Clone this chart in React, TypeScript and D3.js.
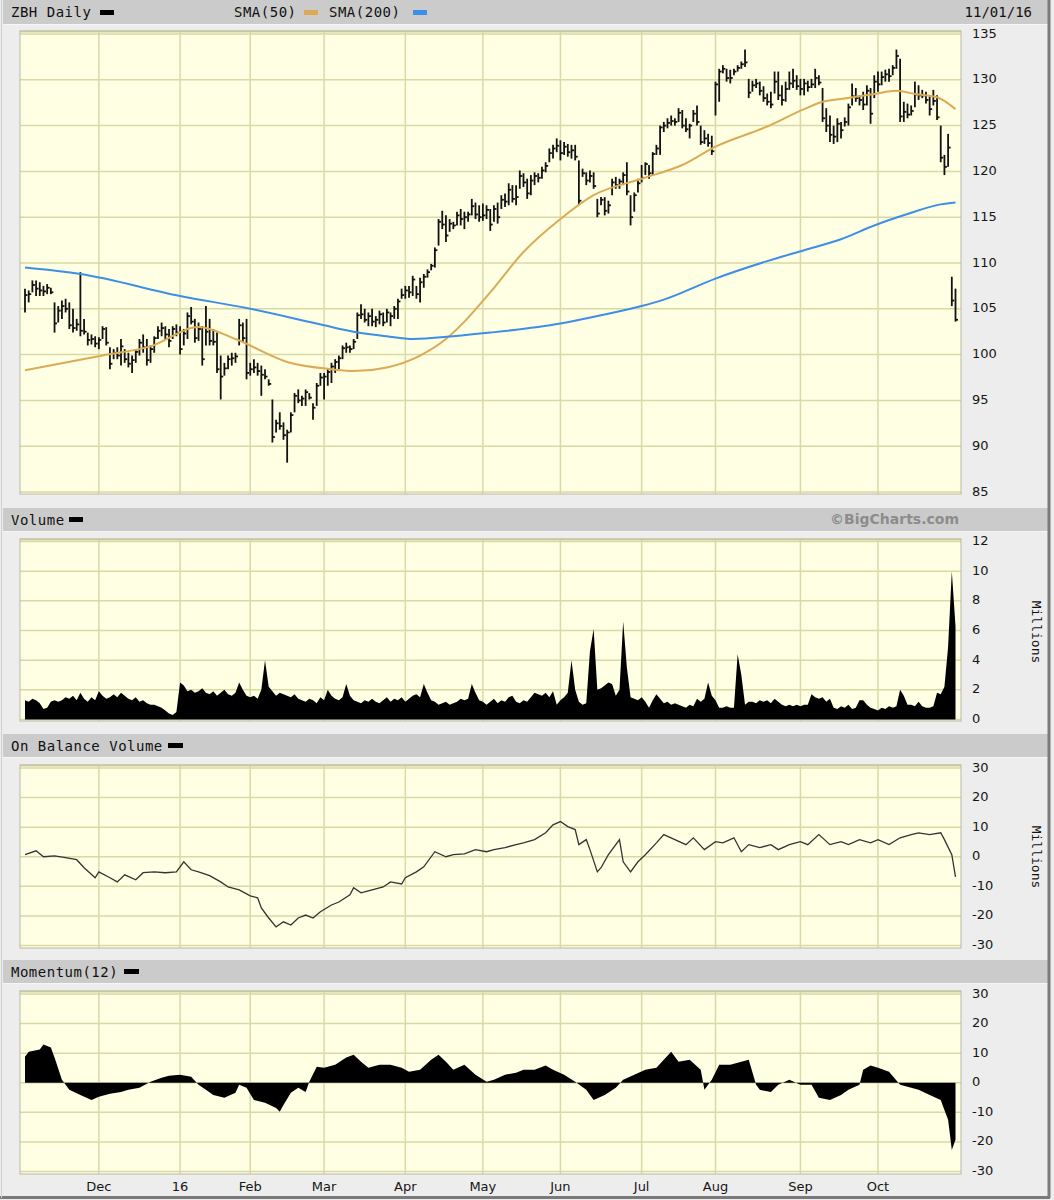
import React from "react";
import * as d3 from "d3";

// ZBH daily bars, Nov 2 2015 .. Nov 1 2016 (index 0..252)
const highs: number[] = [
  107.2,107.0,108.1,108.1,107.9,107.5,107.7,107.3,105.7,105.3,105.9,106.1,105.7,105.0,103.9,109.0,103.9,102.4,102.2,102.0,
  101.9,103.1,103.0,100.8,100.6,100.8,101.7,100.6,100.2,99.9,100.6,101.7,102.2,101.7,101.0,102.0,103.1,103.5,103.1,102.8,103.1,103.3,
  103.1,102.8,104.6,105.2,103.9,103.5,103.1,105.3,103.9,102.8,102.4,99.9,99.1,99.9,100.2,100.2,103.9,103.5,103.9,
  99.1,99.5,99.1,98.8,98.4,97.3,95.1,92.9,93.7,92.6,91.8,93.7,95.8,96.2,95.5,96.2,95.8,94.7,96.9,98.0,
  98.0,98.4,99.1,99.5,99.9,101.0,101.3,101.0,101.7,104.6,105.5,105.0,104.6,105.0,104.2,104.8,104.6,105.0,104.6,105.3,106.1,107.2,
  107.5,107.5,108.6,107.5,108.4,108.8,109.3,109.9,111.7,114.8,115.7,115.2,114.8,114.5,115.6,115.9,115.6,115.6,117.0,116.6,116.3,
  116.5,116.3,115.9,116.3,116.6,117.4,117.6,118.7,118.5,118.5,120.1,119.8,119.2,119.6,119.9,119.8,120.5,121.0,122.5,122.9,123.6,
  123.4,123.2,123.0,122.9,122.9,121.2,120.3,119.9,120.1,119.9,117.0,117.2,117.2,116.8,119.2,119.4,119.2,119.9,121.0,117.4,117.7,119.2,
  120.7,121.0,120.7,122.1,122.9,125.0,125.4,125.8,126.1,125.8,126.9,126.7,125.8,125.2,126.7,127.2,125.0,124.5,124.1,123.9,
  129.8,131.2,131.6,131.2,131.1,131.2,131.6,132.0,133.3,130.1,129.9,130.1,129.8,129.3,128.5,128.7,130.9,130.9,129.4,129.8,130.9,131.2,130.5,
  130.1,130.1,129.9,130.1,131.2,130.5,129.1,126.9,126.1,125.0,125.8,125.4,125.9,127.4,129.6,129.1,128.3,128.7,129.4,129.1,130.5,
  130.9,130.9,131.1,131.2,131.6,133.3,132.3,127.6,127.4,127.2,129.8,129.4,128.9,128.7,128.2,128.9,128.3,125.0,121.8,124.1,108.5,107.2,
];
const lows: number[] = [
  104.6,105.7,106.8,106.4,106.4,106.4,106.6,106.6,102.4,103.5,103.9,104.6,102.8,102.4,102.6,102.0,102.2,101.0,101.1,100.8,
  100.6,101.7,101.0,98.4,99.5,99.5,98.8,99.1,98.6,98.0,99.1,99.9,100.2,98.8,99.1,100.2,101.7,102.0,101.7,100.8,101.7,102.0,
  100.0,101.0,101.7,103.3,101.3,101.5,98.8,101.0,101.0,101.0,98.0,95.1,97.7,98.4,98.8,99.1,101.0,101.3,97.3,
  97.7,98.0,97.7,95.5,97.3,96.6,90.4,91.5,91.8,90.7,88.2,91.5,93.7,94.7,94.4,94.4,95.1,92.9,94.4,96.6,
  95.1,96.6,96.9,98.0,98.4,99.5,100.2,100.2,100.6,101.7,103.9,103.5,103.1,103.1,103.0,103.3,103.1,103.5,103.1,103.9,103.9,106.1,
  106.1,106.2,106.4,106.1,105.7,107.3,108.4,109.2,109.5,111.9,113.7,112.3,113.4,113.7,114.1,114.1,113.7,114.5,115.2,114.8,114.5,
  114.6,114.8,113.5,114.5,114.3,115.9,116.1,116.3,116.6,116.3,118.1,118.3,117.0,117.4,118.5,118.8,119.2,119.9,121.0,121.4,122.1,
  121.2,121.8,121.6,121.4,121.2,116.3,119.4,118.5,118.8,118.1,115.0,116.3,115.2,115.4,117.4,118.1,118.1,118.5,117.4,114.1,115.6,117.7,
  118.8,119.6,119.2,119.6,121.8,121.8,124.3,124.7,125.0,125.0,125.4,124.7,124.3,123.6,125.4,125.0,122.9,123.0,122.7,121.8,
  126.1,127.6,130.7,129.8,129.6,130.5,130.9,131.2,131.4,128.0,128.7,129.1,128.3,127.6,127.2,126.9,128.5,127.8,127.2,127.6,128.9,129.1,128.9,
  128.3,128.3,128.7,129.1,129.1,129.4,125.4,124.3,123.2,123.0,123.2,123.6,124.9,125.0,127.2,127.6,127.2,126.7,127.2,125.2,128.0,
  128.7,129.4,129.8,129.8,130.5,131.2,125.4,125.4,125.8,126.1,127.0,127.8,128.0,127.4,126.1,127.2,125.6,121.0,119.6,120.5,105.3,103.6,
];
const closes: number[] = [
  106.5,106.6,107.6,107.2,107.0,106.9,107.3,106.8,103.4,104.8,105.3,105.0,103.2,102.9,103.3,102.6,102.5,101.6,101.7,101.2,
  101.6,102.8,101.3,99.0,100.2,99.9,100.9,99.5,99.0,99.4,100.3,101.3,100.8,99.4,100.6,101.8,102.6,102.9,102.2,101.5,102.8,102.4,
  100.6,102.3,104.2,103.6,101.8,102.8,99.5,102.5,101.5,101.4,98.4,97.6,98.5,99.5,99.6,99.8,103.2,101.8,98.0,
  98.4,98.6,98.2,97.8,97.6,96.8,91.0,92.5,92.2,91.2,91.5,93.4,95.5,95.0,95.2,95.9,95.3,94.2,96.6,97.5,
  97.6,98.1,98.7,99.2,99.6,100.7,100.8,100.6,101.4,104.3,104.4,103.8,104.2,103.6,103.8,104.4,103.5,104.6,104.2,105.0,105.8,106.5,
  107.0,106.8,108.2,106.6,107.9,108.5,109.0,109.7,111.4,114.5,114.2,113.0,114.3,114.1,115.2,114.8,115.0,115.3,116.2,115.3,115.0,
  115.2,115.8,114.2,115.9,115.0,116.9,116.7,118.0,117.0,117.2,119.5,118.8,117.6,119.0,119.5,119.3,120.1,120.6,122.0,122.5,122.8,
  122.0,122.7,122.1,122.3,121.6,116.8,119.8,119.0,119.5,118.4,115.4,116.9,115.7,116.3,118.8,118.5,118.9,119.6,117.8,115.0,117.4,118.7,
  119.3,120.8,119.8,121.9,122.5,124.8,125.0,125.3,125.5,125.4,126.4,125.0,124.6,125.0,126.3,125.4,123.2,123.6,123.1,122.2,
  129.5,130.9,131.2,130.2,130.2,130.9,131.3,131.7,131.9,128.6,129.4,129.6,128.8,128.0,127.6,127.3,129.8,128.3,127.8,129.0,129.6,129.9,129.3,
  129.0,129.6,129.2,129.5,130.2,129.7,125.8,125.0,124.0,123.8,125.2,124.5,125.4,127.0,128.2,128.0,127.8,127.3,128.8,126.3,129.8,
  129.5,130.3,130.6,130.4,131.3,132.6,126.0,126.5,126.2,126.6,128.4,128.3,128.3,127.8,126.8,127.7,125.9,121.5,120.5,122.6,105.9,103.8,
];

// Volume, millions
const volumes: number[] = [
  1.3,1.2,1.4,1.3,1.1, 0.7,0.8,1.2,1.3,1.2, 1.3,1.5,1.4,1.6,1.3, 1.8,1.4,1.2,1.5,1.3,
  1.9,1.6,1.4,1.5,1.7, 1.5,1.8,1.6,1.4,1.3, 1.5,1.2,1.3,1.1,1.0, 1.0,0.9,0.8,0.6,0.4,0.3,0.5,
  2.5,2.3,1.9,2.0,1.8, 1.9,2.1,1.8,1.7,1.9, 1.6,1.8,2.0,1.7,1.6, 1.8,2.5,2.0,1.6,
  1.5,1.6,1.4,2.0,4.0, 2.2,1.9,1.6,1.8,1.7, 1.6,1.5,1.7,1.4,1.3, 1.2,1.4,1.3,1.1,1.5,
  1.3,2.0,1.6,1.4,1.3, 1.5,2.4,1.6,1.3,1.2, 1.1,1.3,1.2,1.4,1.2, 1.1,1.3,1.5,1.2,1.4,
  1.3,1.5,1.2,1.4,1.6, 1.7,1.5,2.4,1.8,1.3, 1.2,1.0,1.1,1.2,1.0, 1.1,1.2,1.4,1.3,1.4,
  2.4,1.8,1.3,1.2,1.0, 1.2,1.4,1.1,1.3,1.2, 1.5,1.6,1.2,1.1,1.3, 1.2,1.5,1.8,1.7,1.6,
  1.8,1.5,1.9,1.0,1.3, 1.5,1.8,4.0,2.0,1.2, 1.0,1.1,4.6,6.1,2.0, 2.1,2.3,2.5,2.4,1.6,
  2.0,6.6,3.5,1.5,1.4, 1.3,1.5,1.2,0.8,1.3, 1.7,1.4,1.1,1.2,1.0, 1.1,1.0,0.9,0.8,1.0,
  0.9,1.4,1.2,1.4,2.5, 1.6,1.3,0.8,0.8,0.9, 0.8,0.8,4.4,3.0,1.0, 1.2,1.2,1.1,1.3,1.2,
  1.3,1.1,1.4,1.2,1.0, 0.9,1.0,0.9,1.0,0.9, 1.0,1.0,1.7,1.5,1.4, 1.5,1.2,1.4,0.8,0.7,
  0.9,0.8,1.0,0.7,0.8, 1.3,1.3,1.0,0.8,0.7, 0.6,0.8,0.7,0.9,0.8, 0.9,2.0,1.6,1.0,1.0,
  0.9,1.2,0.9,0.8,0.8, 0.9,1.8,1.7,2.2,4.9, 10.0,6.3,
];

// Moving averages read at sample days
const sma50Idx = [0, 21, 34, 47, 57, 71, 83, 89, 98, 107, 114, 119, 126, 135, 145, 154, 167, 178, 187, 201, 211, 216, 221, 230, 236, 241, 247, 252];
const sma50Val = [98.3, 99.9, 100.9, 103.0, 101.7, 99.2, 98.4, 98.2, 98.6, 99.9, 101.7, 103.6, 106.8, 111.2, 114.8, 117.4, 119.2, 120.7, 122.7, 124.9, 126.8, 127.6, 127.9, 128.45, 128.8, 128.45, 128.1, 126.8];
const sma200Idx = [0, 15, 42, 61, 81, 89, 98, 105, 116, 126, 145, 156, 167, 173, 187, 201, 211, 221, 230, 239, 248, 252];
const sma200Val = [109.5, 108.8, 106.4, 105.0, 103.2, 102.5, 102.0, 101.7, 102.0, 102.4, 103.4, 104.3, 105.3, 106.0, 108.3, 110.2, 111.4, 112.6, 114.1, 115.35, 116.4, 116.6];

// On Balance Volume (millions), read at sample days
const obvIdx = [
  0, 3, 5, 8, 11, 14, 16, 19, 20, 23,
  25, 27, 30, 32, 35, 38, 41, 43, 45, 47,
  50, 53, 55, 58, 61, 63, 64, 66, 68, 70,
  72, 74, 76, 78, 80, 83, 85, 88, 89, 91,
  94, 97, 99, 102, 103, 106, 108, 111, 114, 116,
  119, 122, 125, 127, 130, 133, 135, 138, 141, 143,
  145, 147, 149, 150, 152, 153, 155, 156, 158, 161,
  162, 164, 166, 168, 171, 173, 176, 179, 181, 184,
  187, 189, 192, 194, 196, 199, 202, 204, 207, 210,
  212, 215, 218, 221, 223, 226, 229, 231, 234, 237,
  240, 242, 245, 248, 249, 251, 252,
];
const obvVal = [
  0.7, 2.0, 0, 0.3, -0.3, -1.0, -3.7, -7.1, -5.1, -7.1,
  -8.5, -6.1, -7.8, -5.4, -5.1, -5.4, -5.1, -1.7, -4.4, -5.1,
  -6.4, -8.5, -10.2, -11.2, -13.2, -13.9, -17.3, -20.7, -23.7, -22.0,
  -23.1, -20.7, -19.7, -20.7, -18.6, -16.3, -15.3, -12.9, -10.5, -12.2,
  -11.2, -10.2, -8.5, -9.2, -7.1, -5.1, -3.4, 1.7, 0, 0.7,
  1.0, 2.4, 1.7, 2.4, 3.1, 4.1, 4.7, 5.8, 8.1, 10.8,
  11.9, 10.2, 9.2, 4.1, 5.8, 2.4, -5.1, -3.7, 0.7, 5.8,
  -1.7, -5.1, -1.7, 0.7, 4.7, 7.5, 5.8, 4.1, 6.4, 2.4,
  5.1, 4.7, 6.4, 1.7, 4.1, 3.1, 4.1, 2.4, 4.1, 5.1,
  4.1, 7.5, 4.1, 5.1, 4.1, 5.8, 4.7, 5.8, 4.1, 6.4,
  7.5, 8.1, 7.5, 8.1, 5.8, 0.7, -6.8,
];

// Momentum(12), read at sample days
const momIdx = [
  0, 1, 4, 5, 7, 8, 10, 11, 12, 15,
  18, 20, 23, 26, 28, 31, 34, 37, 39, 42,
  45, 47, 49, 51, 54, 57, 58, 60, 62, 65,
  68, 69, 70, 72, 74, 76, 77, 79, 81, 84,
  87, 89, 91, 93, 96, 99, 102, 104, 107, 110,
  112, 114, 116, 119, 122, 125, 127, 130, 133, 135,
  138, 141, 143, 146, 149, 152, 154, 157, 160, 162,
  165, 168, 171, 173, 175, 177, 180, 183, 184, 186,
  188, 191, 194, 196, 198, 199, 202, 204, 207, 210,
  213, 215, 218, 221, 223, 226, 227, 229, 231, 234,
  237, 240, 242, 245, 248, 249, 250, 251, 252,
];
const momVal = [
  8.8, 10.5, 11.2, 12.9, 11.9, 8.5, 1.0, -0.7, -2.4, -4.1,
  -5.8, -4.7, -3.7, -3.1, -2.4, -1.7, 0.3, 1.7, 2.4, 2.7,
  2.0, -0.7, -2.4, -4.1, -5.1, -3.4, -0.7, -1.7, -5.8, -6.8,
  -8.5, -9.8, -7.5, -3.4, -1.7, -3.1, 0.3, 5.4, 5.1, 6.1,
  8.5, 9.5, 7.1, 5.1, 6.1, 6.1, 5.1, 3.7, 4.4, 7.8,
  9.5, 7.1, 4.4, 6.1, 2.7, 0.3, 1.0, 2.7, 3.4, 4.4,
  4.4, 5.8, 4.4, 2.7, 0.3, -2.4, -5.8, -4.1, -1.7, 1.0,
  2.7, 4.4, 5.1, 7.8, 10.5, 7.1, 7.8, 4.4, -2.4, 1.0,
  6.1, 6.1, 7.1, 7.8, -0.7, -2.4, -3.1, -0.7, 1.0, -0.7,
  -0.7, -5.1, -5.8, -4.1, -2.4, -0.7, 4.4, 5.8, 5.1, 3.7,
  -0.7, -1.7, -2.4, -4.1, -5.8, -9.2, -12.5, -22.7, -19.3,
];

const monthIdx = [20, 42, 61, 81, 103, 124, 145, 167, 187, 210, 231];
const monthLabels = ["Dec", "16", "Feb", "Mar", "Apr", "May", "Jun", "Jul", "Aug", "Sep", "Oct"];
const priceTicks = [135, 130, 125, 120, 115, 110, 105, 100, 95, 90, 85];
const volTicks = [12, 10, 8, 6, 4, 2, 0];
const oscTicks = [30, 20, 10, 0, -10, -20, -30];

const MONO = "'DejaVu Sans Mono', monospace";
const SANS = "'DejaVu Sans', sans-serif";
const PLOT_BG = "#ffffe3";
const GRID = "#d9d9a6";
const PL = 20;
const PR = 961;

function Header({ y, h, title, swatch, children }: any) {
  return (
    <g>
      <rect x={3} y={y} width={1045} height={h} fill="#cbcbcb" />
      <line x1={3} x2={1048} y1={y + h + 0.5} y2={y + h + 0.5} stroke="#f6f6f6" />
      <text x={11} y={y + h / 2 + 1} fontFamily={MONO} fontSize={14} letterSpacing={0.5} dominantBaseline="middle" fill="#111">{title}</text>
      {swatch}
      {children}
    </g>
  );
}

export default function App() {
  const x = d3.scaleLinear().domain([0, 252]).range([25, 955.5]);
  const pY = d3.scaleLinear().domain([85, 135]).range([492, 34]);
  const vY = d3.scaleLinear().domain([0, 12]).range([719.5, 541.5]);
  const oY = d3.scaleLinear().domain([-30, 30]).range([945.5, 768]);
  const mY = d3.scaleLinear().domain([-30, 30]).range([1171.5, 994]);

  const panels = [
    { top: 31, bottom: 494, y: pY, ticks: priceTicks },
    { top: 539, bottom: 721, y: vY, ticks: volTicks },
    { top: 765, bottom: 948, y: oY, ticks: oscTicks },
    { top: 991, bottom: 1174, y: mY, ticks: oscTicks },
  ];

  const smaLine = (idx: number[], vals: number[]) =>
    d3.line<number>().x((d, i) => x(idx[i])).y((d) => pY(d)).curve(d3.curveMonotoneX)(vals) || "";

  const volArea = d3.area<number>().x((d, i) => x(i)).y0(vY(0)).y1((d) => vY(d))(volumes) || "";
  const obvPath = d3.line<number>().x((d, i) => x(obvIdx[i])).y((d) => oY(d))(obvVal) || "";
  const momArea = d3.area<number>().x((d, i) => x(momIdx[i])).y0(mY(0)).y1((d) => mY(d))(momVal) || "";

  return (
    <svg width={1054} height={1200} style={{ position: "absolute", left: 0, top: 0, background: "#ededed" }}>
      <rect x={0} y={0} width={1054} height={1200} fill="#ededed" />
      {panels.map((p, k) => (
        <g key={k}>
          <rect x={PL} y={p.top} width={PR - PL} height={p.bottom - p.top} fill={PLOT_BG} />
          {p.ticks
            .filter((t) => p.y(t) > p.top + 1 && p.y(t) < p.bottom - 1)
            .map((t) => (
              <line key={t} x1={PL} x2={PR} y1={p.y(t)} y2={p.y(t)} stroke={GRID} strokeWidth={1.5} />
            ))}
          {monthIdx.map((m) => (
            <line key={m} x1={x(m)} x2={x(m)} y1={p.top} y2={p.bottom} stroke={GRID} strokeWidth={1.5} />
          ))}
          <line x1={PL} x2={PR} y1={p.top + 0.5} y2={p.top + 0.5} stroke="#d4d4a0" strokeWidth={2} />
          <rect x={PL} y={p.top} width={PR - PL} height={p.bottom - p.top} fill="none" stroke="#b9b9a8" strokeWidth={1} />
          {p.ticks.map((t) => (
            <text key={t} x={972} y={p.y(t)} fontFamily={SANS} fontSize={13} fill="#151515" dominantBaseline="middle">
              {t}
            </text>
          ))}
        </g>
      ))}

      {/* price bars */}
      <g stroke="#111" strokeWidth={1.8}>
        {highs.map((h, i) => (
          <g key={i}>
            <line x1={x(i)} x2={x(i)} y1={pY(h)} y2={pY(lows[i])} />
            <line x1={x(i)} x2={x(i) + 2.5} y1={pY(closes[i])} y2={pY(closes[i])} />
          </g>
        ))}
      </g>
      <path d={smaLine(sma50Idx, sma50Val)} fill="none" stroke="#dcaa55" strokeWidth={2} />
      <path d={smaLine(sma200Idx, sma200Val)} fill="none" stroke="#3d8ee6" strokeWidth={2} />

      <path d={volArea} fill="#000" />
      <path d={obvPath} fill="none" stroke="#333" strokeWidth={1.3} />
      <path d={momArea} fill="#000" />

      <Header y={0} h={24} title="ZBH Daily" swatch={<rect x={100} y={10} width={14} height={5} fill="#000" />}>
        <text x={234} y={13} fontFamily={MONO} fontSize={14} letterSpacing={0.5} dominantBaseline="middle" fill="#111">SMA(50)</text>
        <rect x={304} y={10} width={14} height={5} fill="#dcaa55" />
        <text x={329} y={13} fontFamily={MONO} fontSize={14} letterSpacing={0.5} dominantBaseline="middle" fill="#111">SMA(200)</text>
        <rect x={413} y={10} width={14} height={5} fill="#3d8ee6" />
        <text x={1032} y={13} fontFamily={MONO} fontSize={14} textAnchor="end" dominantBaseline="middle" fill="#111">11/01/16</text>
      </Header>
      <Header y={508} h={23} title="Volume" swatch={<rect x={69} y={517} width={14} height={5} fill="#000" />}>
        <text x={959} y={520} fontFamily={SANS} fontWeight="bold" fontSize={14} textAnchor="end" dominantBaseline="middle" fill="#8c8c8c">©BigCharts.com</text>
      </Header>
      <Header y={734} h={23} title="On Balance Volume" swatch={<rect x={168} y={743} width={15} height={5} fill="#000" />} />
      <Header y={960} h={23} title="Momentum(12)" swatch={<rect x={124} y={969} width={15} height={5} fill="#000" />} />

      <text transform="translate(1035,632) rotate(90)" fontFamily={MONO} fontSize={13} textAnchor="middle" dominantBaseline="middle" fill="#111">Millions</text>
      <text transform="translate(1035,857) rotate(90)" fontFamily={MONO} fontSize={13} textAnchor="middle" dominantBaseline="middle" fill="#111">Millions</text>

      {monthIdx.map((m, k) => (
        <text key={m} x={x(m)} y={1187} fontFamily={SANS} fontSize={13} textAnchor="middle" dominantBaseline="middle" fill="#151515">
          {monthLabels[k]}
        </text>
      ))}

      <line x1={1049} x2={1049} y1={0} y2={1198} stroke="#7a7a7a" strokeWidth={3} />
      <line x1={0} x2={1050} y1={1197.5} y2={1197.5} stroke="#7a7a7a" strokeWidth={3} />
      <line x1={1.5} x2={1.5} y1={0} y2={1198} stroke="#d0d0d0" strokeWidth={1} />
    </svg>
  );
}
